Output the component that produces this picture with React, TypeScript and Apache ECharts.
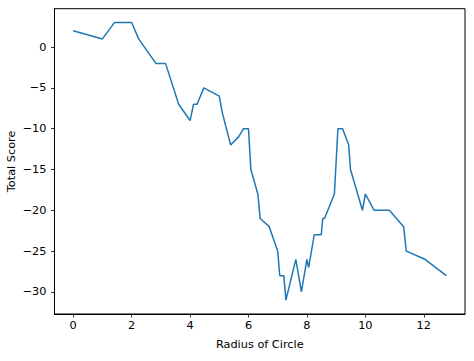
import React, { useEffect, useRef } from "react";
import * as echarts from "echarts";

const radius = [0, 1, 1.41, 2, 2.24, 2.83, 3.16, 3.61, 4, 4.12, 4.24, 4.47, 5, 5.1, 5.39, 5.66, 5.83, 6, 6.08, 6.32, 6.4, 6.71, 7, 7.07, 7.21, 7.28, 7.62, 7.81, 8, 8.06, 8.25, 8.49, 8.54, 8.6, 8.94, 9.06, 9.22, 9.43, 9.49, 9.9, 10, 10.3, 10.82, 11.31, 11.4, 12.04, 12.77];
const score = [2, 1, 3, 3, 1, -2, -2, -7, -9, -7, -7, -5, -6, -8, -12, -11, -10, -10, -15, -18, -21, -22, -25, -28, -28, -31, -26, -30, -26, -27, -23, -23, -21, -21, -18, -10, -10, -12, -15, -20, -18, -20, -20, -22, -25, -26, -28];
const xTicks = [0, 2, 4, 6, 8, 10, 12];
const yTicks = [-30, -25, -20, -15, -10, -5, 0];

const fmt = (v: number) => String(v).replace("-", "\u2212");

export default function App() {
  const ref = useRef<HTMLDivElement>(null);
  useEffect(() => {
    if (!ref.current) return;
    const chart = echarts.init(ref.current, undefined, { renderer: "svg" });
    const font = "DejaVu Sans";
    const fs = 11.3;
    const axisCommon = {
      axisLine: { show: true, onZero: false, lineStyle: { color: "#000", width: 1 } },
      axisTick: { show: true, inside: false, length: 3.5, lineStyle: { color: "#000", width: 0.8 } },
      splitLine: { show: false },
      nameMoveOverlap: false,
      nameTextStyle: { fontFamily: font, fontSize: fs, color: "#000" },
    };
    chart.setOption({
      animation: false,
      backgroundColor: "#fff",
      grid: {
        left: 54.5,
        right: 9,
        top: 8.7,
        bottom: 47,
        show: true,
        borderColor: "#000",
        borderWidth: 1,
        containLabel: false,
        outerBoundsMode: "none",
      },
      xAxis: {
        type: "value",
        min: -0.64,
        max: 13.41,
        name: "Radius of Circle",
        nameLocation: "middle",
        nameGap: 25,
        ...axisCommon,
        axisTick: { ...axisCommon.axisTick, customValues: xTicks },
        axisLabel: {
          customValues: xTicks,
          formatter: fmt,
          fontFamily: font,
          fontSize: fs,
          color: "#000",
          margin: 6,
        },
      },
      yAxis: {
        type: "value",
        min: -32.7,
        max: 4.7,
        name: "Total Score",
        nameLocation: "middle",
        nameGap: 38,
        ...axisCommon,
        axisTick: { ...axisCommon.axisTick, customValues: yTicks },
        axisLabel: {
          customValues: yTicks,
          formatter: fmt,
          fontFamily: font,
          fontSize: fs,
          color: "#000",
          margin: 8,
        },
      },
      series: [
        {
          type: "line",
          data: radius.map((r, i) => [r, score[i]]),
          symbol: "none",
          lineStyle: { color: "#1f77b4", width: 1.5 },
        },
      ],
    });
    return () => chart.dispose();
  }, []);
  return <div ref={ref} style={{ width: 474, height: 361, position: "absolute", left: 0, top: 0 }} />;
}
